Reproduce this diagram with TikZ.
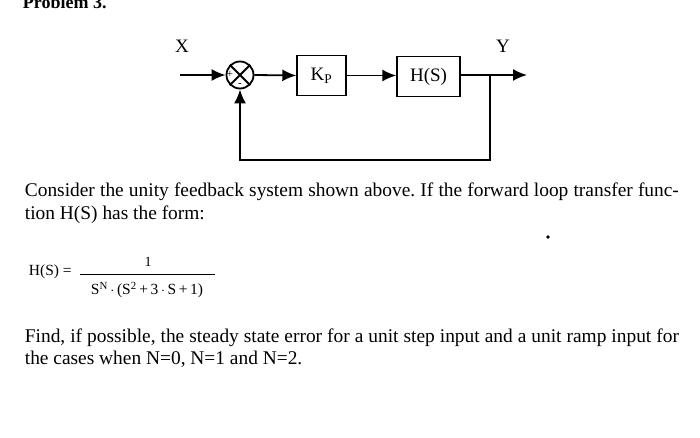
\documentclass[tikz,border=0pt]{standalone}
\usepackage{fontspec}
\setmainfont{Liberation Serif}
\usetikzlibrary{arrows.meta}
\frenchspacing
\begin{document}
\begin{tikzpicture}[x=1pt,y=-1pt,line width=1.8pt,
  blk/.style={draw,line width=1.4pt,minimum height=40pt,inner sep=0pt,font=\fontsize{19}{20}\selectfont},
  arr/.style={-{Latex[length=14pt,width=12pt]}},
  txt/.style={font=\fontsize{19.4}{23}\selectfont,text width=654pt,align=justify,anchor=north west,inner sep=0pt}]
\useasboundingbox (0,0) rectangle (700,438);
\node[anchor=north west,inner sep=0pt,font=\bfseries\fontsize{18}{20}\selectfont] (title) at (22,-5) {Problem 3.};
\node[circle,draw,line width=1.8pt,minimum size=27pt,inner sep=0pt] (sum) at (240,75) {};
\draw[line width=1.8pt] (sum.north west)--(sum.south east) (sum.north east)--(sum.south west);
\node[font=\fontsize{11}{11}\selectfont] (plus) at (230,74) {+};
\node[font=\fontsize{11}{11}\selectfont] (minus) at (240,85) {-};
\node[blk,minimum width=49pt] (kp) at (321.5,75.5) {K\textsubscript{P}};
\node[blk,minimum width=63pt] (hs) at (428.5,76.5) {H(S)};
\coordinate (in) at (180,75);
\coordinate (out) at (527,75);
\coordinate (br) at (490,75);
\node[font=\fontsize{19}{20}\selectfont] (X) at (182,46) {X};
\node[font=\fontsize{19}{20}\selectfont] (Y) at (503,46) {Y};
\draw[arr] (in)--(sum.west);
\draw[arr] (sum.east)--(kp.west);
\draw[arr] (kp.east)--(hs.west|-kp.east);
\draw[arr] (hs.east|-out)--(out);
\draw[arr] (br)--(490,160)--(240,160)--(sum.south);
\node[txt] (p1) at (24,182) {Consider the unity feedback system shown above. If the forward loop transfer function H(S) has the form:};
\node[anchor=west,inner sep=0pt,font=\fontsize{15.5}{18}\selectfont] (hlab) at (28,272) {H(S) =};
\node[font=\fontsize{14}{16}\selectfont] (num) at (148,262) {1};
\draw[line width=0.8pt] (80,274)--(215,274);
\node[font=\fontsize{15.5}{18}\selectfont] (den) at (147,290) {S\textsuperscript{N}\,$\cdot$\,(S\textsuperscript{2}\,+\,3\,$\cdot$\,S\,+\,1)};
\fill (548,237) circle (1.8pt);
\node[txt,font=\fontsize{19.4}{22}\selectfont] (p2) at (24,328) {Find, if possible, the steady state error for a unit step input and a unit ramp input for the cases when N=0, N=1 and N=2.};
\end{tikzpicture}
\end{document}
